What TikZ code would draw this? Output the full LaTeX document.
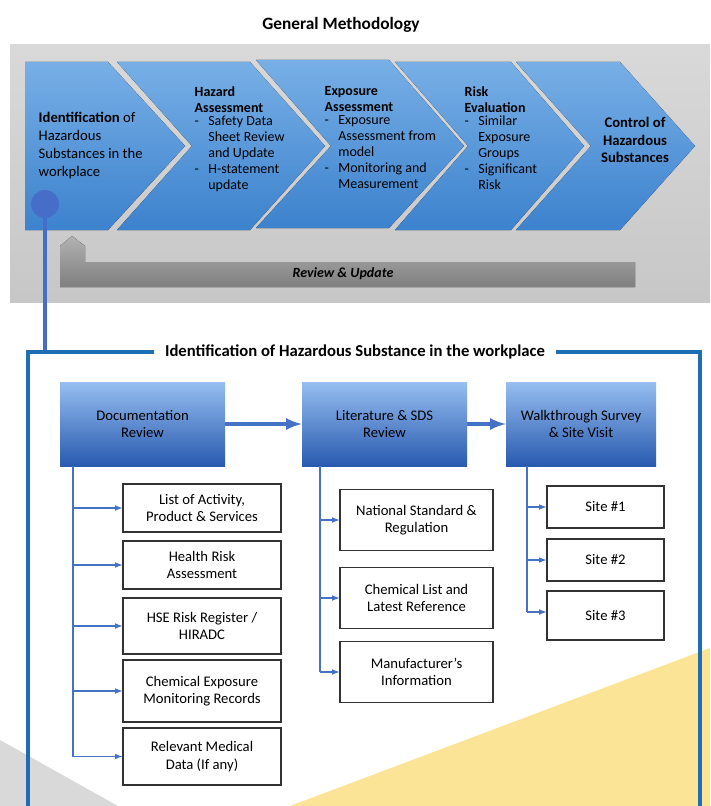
\documentclass[tikz,border=0pt]{standalone}
\usepackage{fontspec}
\setmainfont{Carlito}
\definecolor{chtop}{RGB}{120,175,230}
\definecolor{chbot}{RGB}{60,130,205}
\definecolor{hdtop}{RGB}{150,190,240}
\definecolor{hdbot}{RGB}{40,90,175}
\definecolor{arr}{RGB}{68,114,196}
\definecolor{frm}{RGB}{30,110,180}
\definecolor{dotc}{RGB}{70,110,200}
\definecolor{yel}{RGB}{252,228,150}
\begin{document}
\begin{tikzpicture}[x=0.75pt,y=-0.75pt,
 chev/.style={top color=chtop,bottom color=chbot,draw=none},
 hdr/.style={top color=hdtop,bottom color=hdbot,draw=none},
 box/.style={draw=black!80,line width=0.8pt},
 t/.style={font=\fontsize{11}{13}\selectfont,align=center},
 ct/.style={font=\fontsize{10.5}{12}\selectfont,align=left,anchor=north west},
 br/.style={draw=arr,line width=0.9pt,-latex},
 big/.style={draw=arr,line width=3pt,-{latex}}]
\useasboundingbox (0,0) rectangle (710,806);
\fill[white] (0,0) rectangle (710,806);
\node[font=\bfseries\fontsize{13}{15}\selectfont] (title) at (341,25) {General Methodology};
\fill[top color=black!15,bottom color=black!22] (10,45) rectangle (710,302);
% chevrons
\fill[chev] (25,62) -- (108,62) -- (185,146) -- (108,230) -- (25,230) -- cycle;
\fill[chev] (117,62) -- (250,62) -- (325,146) -- (250,230) -- (117,230) -- (192,146) -- cycle;
\fill[chev] (256,60) -- (389,60) -- (464,146) -- (389,228) -- (256,228) -- (331,146) -- cycle;
\fill[chev] (395,62) -- (511,62) -- (584,146) -- (511,230) -- (395,230) -- (468,146) -- cycle;
\fill[chev] (516,62) -- (620,62) -- (695,146) -- (620,230) -- (516,230) -- (591,146) -- cycle;
\node[ct,font=\fontsize{11}{13.5}\selectfont] (c1) at (34,107) {\textbf{Identification} of\\Hazardous\\Substances in the\\workplace};
\node[ct] (c2) at (190,82) {\textbf{Hazard}\\\textbf{Assessment}\\
 \begin{tabular}{@{}l@{\hspace{7pt}}l@{}}-&Safety Data\\&Sheet Review\\&and Update\\-&H-statement\\&update\end{tabular}};
\node[ct] (c3) at (320,82) {\textbf{Exposure}\\\textbf{Assessment}\\
 \begin{tabular}{@{}l@{\hspace{7pt}}l@{}}-&Exposure\\&Assessment from\\&model\\-&Monitoring and\\&Measurement\end{tabular}};
\node[ct] (c4) at (460,82) {\textbf{Risk}\\\textbf{Evaluation}\\
 \begin{tabular}{@{}l@{\hspace{7pt}}l@{}}-&Similar\\&Exposure\\&Groups\\-&Significant\\&Risk\end{tabular}};
\node[t,font=\bfseries\fontsize{11}{13}\selectfont] (c5) at (635,140) {Control of\\Hazardous\\Substances};
% review bar
\fill[top color=black!30,bottom color=black!50] (60,287) -- (60,246) -- (72,236) -- (85,246) -- (85,262) -- (635,262) -- (635,287) -- cycle;
\node[font=\bfseries\itshape\fontsize{10.5}{12}\selectfont] (rev) at (343,274) {Review \& Update};
% connector
\node[circle,fill=dotc,minimum size=28pt*0.75,inner sep=0] (dot) at (45,204) {};
\coordinate (fr) at (45,352);
\draw[dotc,line width=3pt] (dot) -- (fr);
% background triangles
\fill[yel] (290,806) -- (710,648) -- (710,806) -- cycle;
\fill[black!15] (0,740) -- (0,806) -- (118,806) -- cycle;
% frame
\draw[frm,line width=3pt] (28,806) -- (28,352) -- (700,352) -- (700,806);
\node[fill=white,font=\bfseries\fontsize{12.5}{14}\selectfont,inner xsep=8pt] (ftitle) at (355,352) {Identification of Hazardous Substance in the workplace};
% headers
\node[hdr,t,minimum width=165pt*0.75,minimum height=84pt*0.75] (doc) at (142.5,424) {Documentation\\Review};
\node[hdr,t,minimum width=165pt*0.75,minimum height=84pt*0.75] (lit) at (384.5,424) {Literature \& SDS\\Review};
\node[hdr,t,minimum width=150pt*0.75,minimum height=84pt*0.75] (walk) at (581,424) {Walkthrough Survey\\\& Site Visit};
\draw[big] (doc) -- (lit);
\draw[big] (lit) -- (walk);
% left column
\foreach \n/\y/\h/\txt in {a1/508/48/{List of Activity,\\Product \& Services},a2/565/48/{Health Risk\\Assessment},a3/626/56/{HSE Risk Register /\\HIRADC},a4/691/62/{Chemical Exposure\\Monitoring Records},a5/756.5/57/{Relevant Medical\\Data (If any)}}
 \node[box,t,fill=white,minimum width=158pt*0.75,minimum height=\h pt*0.75] (\n) at (202,\y) {\txt};
\coordinate (la) at (73,466); \coordinate (lb) at (73,756.5);
\draw[br,-] (la) -- (lb);
\foreach \n/\y in {a1/508,a2/565,a3/626,a4/691,a5/756.5}{\coordinate (l\n) at (73,\y); \draw[br] (l\n) -- (\n);}
% middle column
\foreach \n/\y/\txt in {b1/520/{National Standard \&\\Regulation},b2/598/{Chemical List and\\Latest Reference},b3/672/{Manufacturer’s\\Information}}
 \node[box,t,fill=white,minimum width=153pt*0.75,minimum height=61pt*0.75] (\n) at (416.5,\y) {\txt};
\coordinate (ma) at (320,466); \coordinate (mb) at (320,672);
\draw[br,-] (ma) -- (mb);
\foreach \n/\y in {b1/520,b2/598,b3/672}{\coordinate (m\n) at (320,\y); \draw[br] (m\n) -- (\n);}
% right column
\foreach \n/\y/\h/\txt in {s1/507/42/{Site \#1},s2/560/42/{Site \#2},s3/615.5/49/{Site \#3}}
 \node[box,t,fill=white,minimum width=117pt*0.75,minimum height=\h pt*0.75] (\n) at (605.5,\y) {\txt};
\coordinate (ra) at (527,466); \coordinate (rb) at (527,612);
\draw[br,-] (ra) -- (rb);
\foreach \n/\y in {s1/507,s2/560,s3/612}{\coordinate (r\n) at (527,\y); \draw[br] (r\n) -- (\n.west|-r\n);}
\end{tikzpicture}
\end{document}
